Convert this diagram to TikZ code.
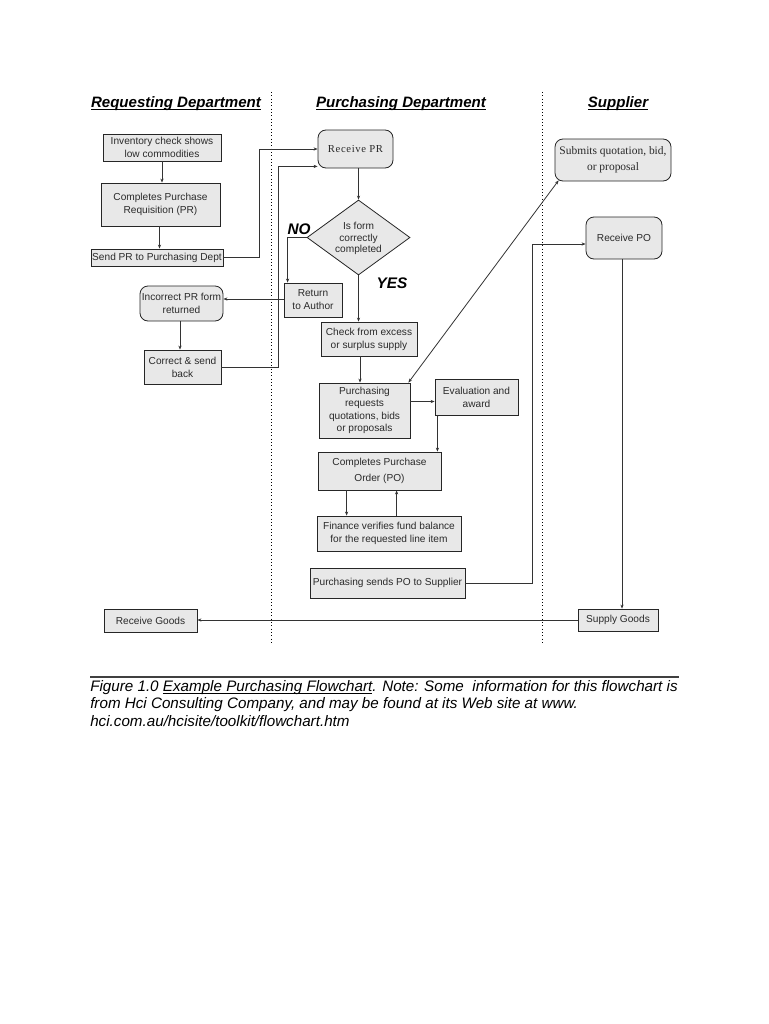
\documentclass[tikz,border=0pt]{standalone}
\usepackage{fontspec}
\setmainfont{Liberation Sans}
\newfontfamily\tms{Liberation Serif}
\newfontfamily\tmssp[LetterSpace=6]{Liberation Serif}
\usetikzlibrary{shapes.geometric,arrows.meta,calc}
\definecolor{boxfill}{HTML}{E8E8E8}
\definecolor{txt}{HTML}{2A2A2A}
\newcommand\ulsm[1]{\underline{\smash{#1}}}
\begin{document}
\begin{tikzpicture}[x=0.75pt,y=-0.75pt,
 box/.style={draw=black!85, line width=0.6pt, fill=boxfill, inner sep=0pt, align=center, font=\fontsize{7.6}{9.75}\selectfont, text=txt},
 rbox/.style={box, rounded corners=6pt},
 arr/.style={draw=black!80, line width=0.6pt, -{Stealth[length=3pt,width=2.4pt]}},
 lane/.style={dotted, line width=0.5pt},
 head/.style={font=\fontsize{11.3}{13}\selectfont\bfseries\itshape},
 yn/.style={font=\fontsize{11.5}{13}\selectfont\bfseries\itshape},
 captext/.style={font=\fontsize{11.4}{13.1}\selectfont\itshape, align=left, inner sep=0pt, anchor=north west}]
\useasboundingbox (0,0) rectangle (768,1024);
\fill[white] (0,0) rectangle (768,1024);

% lanes
\coordinate (l1t) at (271,92); \coordinate (l1b) at (271,645);
\coordinate (l2t) at (542,92); \coordinate (l2b) at (542,645);
\draw[lane] (l1t) -- (l1b);
\draw[lane] (l2t) -- (l2b);

% headers
\node[head] (h1) at (176,109) {\ulsm{Requesting Department}};
\node[head] (h2) at (401,109) {\ulsm{Purchasing Department}};
\node[head] (h3) at (618,109) {\ulsm{Supplier}};

% requesting department
\node[box, minimum width=88.5pt, minimum height=20.25pt] (inv) at (162,147.5) {Inventory check shows\\low commodities};
\node[box, minimum width=89.25pt, minimum height=32.25pt] (cpr) at (160.5,204.5) {Completes Purchase\\Requisition (PR)};
\node[box, minimum width=99pt, minimum height=12.75pt] (send) at (157,257.5) {Send PR to Purchasing Dept};
\node[rbox, minimum width=62.25pt, minimum height=26.25pt] (inc) at (181.5,303.5) {Incorrect PR form\\returned};
\node[box, minimum width=57.75pt, minimum height=25.5pt] (cor) at (182.5,367) {Correct \& send\\back};
\node[box, minimum width=69.75pt, minimum height=17.25pt] (rg) at (150.5,620.5) {Receive Goods};

% purchasing department
\node[rbox, minimum width=56.25pt, minimum height=28.5pt, font=\tmssp\fontsize{8}{10}\selectfont] (rpr) at (355.5,149) {Receive PR};
\node[diamond, draw=black!85, line width=0.6pt, fill=boxfill, minimum width=77.25pt, minimum height=56.25pt, inner sep=0pt] (dia) at (358.5,237.5) {};
\node[font=\fontsize{7.6}{8.8}\selectfont, text=txt, align=center, inner sep=0pt] (diat) at (358.5,238.5) {Is form\\correctly\\completed};
\node[yn] (no) at (299,229) {NO};
\node[yn] (yes) at (392,283) {YES};
\node[box, minimum width=43.5pt, minimum height=25.5pt] (ret) at (313,300) {Return\\to Author};
\node[box, minimum width=72pt, minimum height=25.5pt] (chk) at (369,339) {Check from excess\\or surplus supply};
\node[box, minimum width=68.25pt, minimum height=41.25pt, font=\fontsize{7.6}{9.2}\selectfont] (preq) at (364.5,410.5) {Purchasing\\requests\\quotations, bids\\or proposals};
\node[box, minimum width=62.25pt, minimum height=27pt] (eval) at (476.5,397) {Evaluation and\\award};
\node[box, minimum width=92.25pt, minimum height=28.5pt, font=\fontsize{7.6}{12}\selectfont] (cpo) at (379.5,471) {Completes Purchase\\Order (PO)};
\node[box, minimum width=108pt, minimum height=26.25pt] (fin) at (389,533.5) {Finance verifies fund balance\\for the requested line item};
\node[box, minimum width=116.25pt, minimum height=22.5pt] (spo) at (387.5,583) {Purchasing sends PO to Supplier};

% supplier
\node[rbox, minimum width=87pt, minimum height=31.5pt, font=\tms\fontsize{8.6}{12}\selectfont] (sub) at (613,160) {Submits quotation, bid,\\or proposal};
\node[rbox, minimum width=57pt, minimum height=31.5pt] (rpo) at (624,238) {Receive PO};
\node[box, minimum width=60pt, minimum height=16.5pt] (sg) at (618,620) {Supply Goods};

% connectors
\draw[arr] (inv.south) -- (inv.south |- cpr.north);
\draw[arr] ($(cpr.south)+(-1,0)$) -- ($(cpr.south |- send.north)+(-1,0)$);
\draw[arr] (send.east) -- ++(36,0) |- (rpr.west);
\draw[arr] (cor.east) -- ++(57,0) |- ($(rpr.south west)+(0,-2)$);
\draw[arr] (dia.north |- rpr.south) -- (dia.north);
\draw[arr] (dia.west) -| ($(ret.north west)+(4,0)$);
\draw[arr] ($(ret.west)+(0,-1)$) -- ($(ret.west -| inc.east)+(0,-1)$);
\draw[arr] (dia.south) -- (dia.south |- chk.north);
\draw[arr] ($(inc.south)+(-1.5,0)$) -- ($(inc.south |- cor.north)+(-1.5,0)$);
\draw[arr] ($(chk.south)+(-9,0)$) -- ($(chk.south |- preq.north)+(-9,0)$);
\draw[draw=black!80, line width=0.6pt, {Stealth[length=3pt,width=2.4pt]}-{Stealth[length=3pt,width=2.4pt]}] ($(preq.north east)+(-2,0)$) -- ($(sub.south west)+(4,-1)$);
\draw[arr] ($(preq.east)+(0,-9)$) -- ($(eval.west)+(0,4.5)$);
\draw[arr] ($(eval.south west)+(3,0)$) -- ($(cpo.north east)+(-4,0)$);
\draw[arr] ($(cpo.south west)+(29,0)$) -- ($(cpo.south west |- fin.north)+(29,0)$);
\draw[arr] ($(fin.north west)+(80,0)$) -- ($(fin.north west |- cpo.south)+(80,0)$);
\draw[arr] (spo.east) -- ++(67,0) |- ($(rpo.west)+(0,6)$);
\draw[arr] ($(rpo.south)+(-2,0)$) -- ($(rpo.south |- sg.north)+(-2,0)$);
\draw[arr] (sg.west) -- (sg.west -| rg.east);

% caption
\coordinate (cl) at (90,677); \coordinate (cr) at (679,677);
\draw[line width=0.8pt, black!75] (cl) -- (cr);
\node[captext] (capt) at (90,680) {Figure 1.0 \ulsm{Example Purchasing Flowchart}. Note: Some\ \ information for this flowchart is\\
from Hci Consulting Company, and may be found at its Web site at www.\\
hci.com.au/hcisite/toolkit/flowchart.htm};
\end{tikzpicture}
\end{document}
